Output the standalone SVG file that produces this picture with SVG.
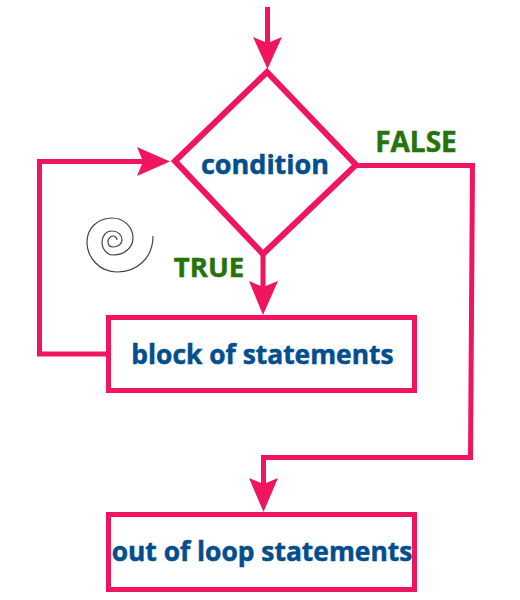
<svg xmlns="http://www.w3.org/2000/svg" width="520" height="600" viewBox="0 0 520 600">
<style>
.l{fill:none;stroke:#ef165f;stroke-width:5}
.a{fill:#ef165f}
.t{font-family:"Open Sans","Liberation Sans",sans-serif;font-weight:700;text-anchor:middle;stroke-width:.5}
.b{fill:#034e8c;stroke:#034e8c}
.g{fill:#267307;stroke:#267307}
</style>
<rect width="520" height="600" fill="#fff"/>
<g id="connectors">
<path class="l" d="M267.500 7V45"/>
<path class="a" d="M267.500 69L253 37L267.500 43L282 37Z"/>
<path class="l" d="M107 354H39.500V161.500H145"/>
<path class="a" d="M170 161.500L137 147L143 161.500L137 176Z"/>
<path class="l" d="M263 254V290"/>
<path class="a" d="M263 315L249 281L263 287L278 281Z"/>
<path class="l" d="M357 165.500H472.500L470.500 457.500H263.500V490"/>
<path class="a" d="M263.500 512L249 478L263.500 484L278 478Z"/>
</g>
<g id="condition">
<path class="l" style="stroke-width:6" d="M267 72L356 165L263 254L175 161Z"/>
<text class="t b" x="265" y="174" font-size="27">condition</text>
</g>
<g id="block">
<rect class="l" x="108.500" y="317.500" width="306" height="73"/>
<text class="t b" x="262.500" y="364" font-size="26.400">block of statements</text>
</g>
<g id="out">
<rect class="l" x="108.500" y="514.500" width="306" height="75"/>
<text class="t b" x="262" y="561" font-size="26.400">out of loop statements</text>
</g>
<g id="labels">
<text class="t g" x="416" y="152" font-size="28">FALSE</text>
<text class="t g" x="209" y="277" font-size="27.500">TRUE</text>
</g>
<path id="spiral" fill="none" stroke="#444" stroke-width="1.200" d="M153 236C153 258 137 272 117 272C100 272 87 258 87 242C87 228 98 218 112 218C124 218 133 227 133 238C133 248 124 255 113 255C107 255 102 249 102 242C102 236 106 231 112 231C118 231 122 235 122 240C122 244 118 247 113 247C110 247 108 245 108 242C108 239 110 236 113 236C115 236 117 238 117 240"/>
</svg>
